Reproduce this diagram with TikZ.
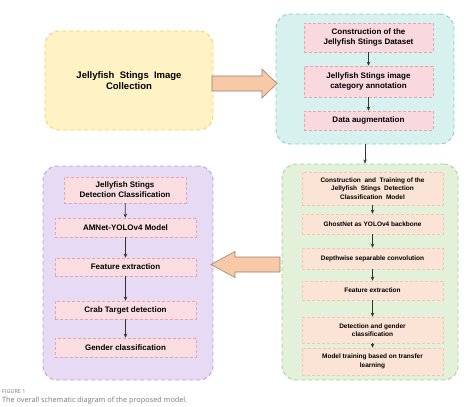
\documentclass[tikz,border=0pt]{standalone}
\usepackage{fontspec}
\setmainfont{Liberation Sans}
\newfontfamily\capfont{Open Sans}
\usetikzlibrary{arrows.meta,calc}
\definecolor{yfill}{HTML}{FFF2C4}
\definecolor{ydraw}{HTML}{F2D36B}
\definecolor{cfill}{HTML}{D6F1EE}
\definecolor{cdraw}{HTML}{86D0C8}
\definecolor{pkfill}{HTML}{F9D8DE}
\definecolor{pkdraw}{HTML}{E9A3AE}
\definecolor{gfill}{HTML}{E3F0DA}
\definecolor{gdraw}{HTML}{A8D08D}
\definecolor{gin}{HTML}{FBE4D6}
\definecolor{gindraw}{HTML}{F0C8B0}
\definecolor{pfill}{HTML}{E6DAF5}
\definecolor{pdraw}{HTML}{B9A2D8}
\definecolor{pin}{HTML}{F9DDE0}
\definecolor{arfill}{HTML}{F7C9A6}
\definecolor{ardraw}{HTML}{9A8070}
\definecolor{capgray}{HTML}{777777}
\tikzset{
  outer/.style={draw=#1, dashed, dash pattern=on 4pt off 3pt, line width=0.9pt, rounded corners=14pt, anchor=center},
  inbox/.style={draw=#1, dashed, dash pattern=on 3pt off 2pt, line width=0.6pt, anchor=center, align=center, inner sep=1pt, font=\bfseries\color{black!90}},
  conn/.style={-{Stealth[length=4pt,width=3.5pt]}, line width=0.8pt, draw=black!80},
  blockarrow/.style={fill=arfill, draw=ardraw, line width=0.6pt},
}
\begin{document}
\begin{tikzpicture}[x=1pt,y=-1pt]
\useasboundingbox (0,0) rectangle (474,407);
% yellow
\node[outer=ydraw, fill=yfill, minimum width=168pt, minimum height=99pt, align=center, font=\fontsize{9.5}{11.5}\selectfont\bfseries] (yellow) at (129,80.5) {Jellyfish\ \ Stings\ \ Image\\Collection};
% cyan
\node[outer=cdraw, fill=cfill, minimum width=178pt, minimum height=130pt] (cyan) at (365,79) {};
\node[inbox=pkdraw, fill=pkfill, minimum width=129pt, minimum height=29pt, font=\fontsize{8}{10}\selectfont\bfseries] (c1) at (368.5,37.5) {Construction of the\\Jellyfish Stings Dataset};
\node[inbox=pkdraw, fill=pkfill, minimum width=129pt, minimum height=31pt, font=\fontsize{8}{10}\selectfont\bfseries] (c2) at (368.5,81.5) {Jellyfish Stings image\\category annotation};
\node[inbox=pkdraw, fill=pkfill, minimum width=129pt, minimum height=19pt, font=\fontsize{8}{10}\selectfont\bfseries] (c3) at (368.5,120.5) {Data augmentation};
\draw[conn] (c1) -- (c2);
\draw[conn] (c2) -- (c3);
% green
\node[outer=gdraw, fill=gfill, minimum width=176pt, minimum height=216pt] (green) at (370,272) {};
\tikzset{gb/.style={inbox=gindraw, fill=gin, minimum width=141pt, font=\fontsize{6.5}{8.5}\selectfont\bfseries}}
\node[gb, minimum height=33pt] (g1) at (372.5,188.5) {Construction\ \ and\ \ Training of the\\Jellyfish\ \ Stings\ \ Detection\\Classification\ \ Model};
\node[gb, minimum height=20pt] (g2) at (372.5,224) {GhostNet as YOLOv4 backbone};
\node[gb, minimum height=21pt] (g3) at (372.5,258.5) {Depthwise separable convolution};
\node[gb, minimum height=19pt] (g4) at (372.5,290.5) {Feature extraction};
\node[gb, minimum height=26pt] (g5) at (372.5,330) {Detection and gender\\classification};
\node[gb, minimum height=27pt] (g6) at (372.5,361.5) {Model training based on transfer\\learning};
\draw[conn] (g1) -- (g2);
\draw[conn] (g2) -- (g3);
\draw[conn] (g3) -- (g4);
\draw[conn] (g4) -- (g5);
\draw[conn] (g5) -- (g6);
\draw[conn] (cyan.south) -- (cyan.south |- green.north);
% purple
\node[outer=pdraw, fill=pfill, minimum width=170pt, minimum height=214pt] (purple) at (128,273) {};
\tikzset{pb/.style={inbox=pkdraw, fill=pin, minimum width=141pt, font=\fontsize{8}{10}\selectfont\bfseries}}
\node[pb, minimum width=122pt, minimum height=26pt] (p1) at (125,190) {Jellyfish Stings\\Detection Classification};
\node[pb, minimum height=19pt] (p2) at (125.5,227.5) {AMNet-YOLOv4 Model};
\node[pb, minimum height=18pt] (p3) at (125.5,267) {Feature extraction};
\node[pb, minimum height=18pt] (p4) at (125.5,310) {Crab Target detection};
\node[pb, minimum height=19pt] (p5) at (125.5,347.5) {Gender classification};
\draw[conn] (p1) -- (p2);
\draw[conn] (p2) -- (p3);
\draw[conn] (p3) -- (p4);
\draw[conn] (p4) -- (p5);
% block arrows
\draw[blockarrow] (212,76) -- (262,76) -- (262,69) -- (277,83.5) -- (262,98) -- (262,91) -- (212,91) -- cycle;
\draw[blockarrow] (280,257) -- (235,257) -- (235,251.5) -- (211,264.5) -- (235,277.5) -- (235,272) -- (280,272) -- cycle;
% caption
\node[anchor=west, inner sep=0pt, font=\capfont\fontsize{5.5}{6.5}\selectfont, text=capgray] (figlabel) at (2,391.5) {FIGURE 1};
\node[anchor=west, inner sep=0pt, font=\capfont\fontsize{7.3}{8.5}\selectfont, text=capgray] (caption) at (2,401) {The overall schematic diagram of the proposed model.};
\end{tikzpicture}
\end{document}
